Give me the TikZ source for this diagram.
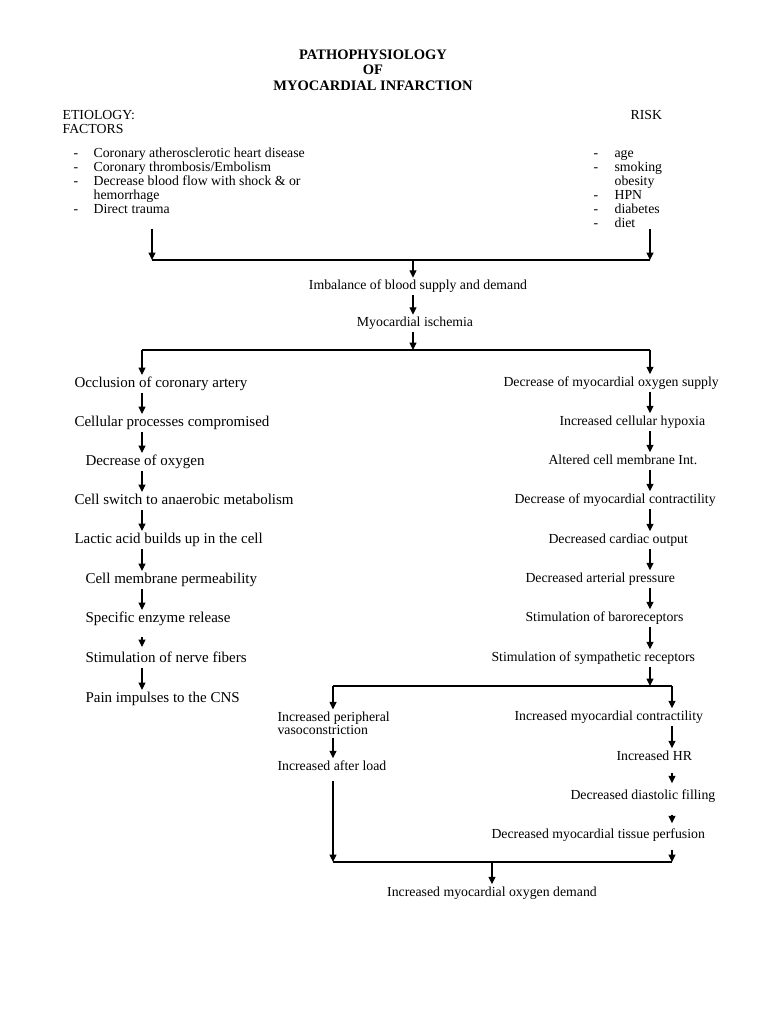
\documentclass[tikz,border=0pt]{standalone}
\usepackage{fontspec}
\setmainfont{Liberation Serif}
\usepackage{tikz}
\usetikzlibrary{shapes,arrows,arrows.meta}
\usetikzlibrary{positioning}
\tikzstyle{heading} = [inner sep=0pt, anchor=west, font=\fontsize{13.8}{14}\selectfont]
\tikzstyle{lefttext} = [inner sep=0pt, outer sep=2.5pt, anchor=west,
    font=\fontsize{15}{17}\selectfont, text height=10pt, text depth=3pt]
\tikzstyle{righttext} = [inner sep=0pt, outer sep=2.5pt, anchor=west,
    font=\fontsize{13.8}{14}\selectfont, text height=9.5pt, text depth=3pt]
\tikzstyle{line} = [draw, -{Triangle[length=7.5pt,width=7pt]}]

\begin{document}
\begin{tikzpicture}[x=1pt,y=-1pt,line width=1.2pt]
    \useasboundingbox[fill=white] (0,0) rectangle (768,1024);
    % Place nodes
    \node [align=center, inner sep=0pt, font=\bfseries\fontsize{14.5}{15.5}\selectfont] (title) at (373,70)
        {PATHOPHYSIOLOGY\\OF\\MYOCARDIAL INFARCTION};
    \node [heading, align=left] (etiology) at (62,122) {ETIOLOGY:\\FACTORS};
    \node [heading] (risk) at (630,115) {RISK};
    \node [heading] (etiolist) at (73,182.5) {\begin{tabular}{@{}p{20pt}@{}l@{}}
        - & Coronary atherosclerotic heart disease\\
        - & Coronary thrombosis/Embolism\\
        - & Decrease blood flow with shock \& or\\
          & hemorrhage\\
        - & Direct trauma
        \end{tabular}};
    \node [heading] (risklist) at (593,189.5) {\begin{tabular}{@{}p{21pt}@{}l@{}}
        - & age\\
        - & smoking\\
          & obesity\\
        - & HPN\\
        - & diabetes\\
        - & diet
        \end{tabular}};
    \coordinate (etop) at (152,229);
    \coordinate (ebar) at (152,260);
    \coordinate (rtop) at (650,229);
    \coordinate (rbar) at (650,260);
    \coordinate (mbar) at (413,260);
    \node [righttext, anchor=center] (imbalance) at (418,286.5) {Imbalance of blood supply and demand};
    \node [righttext, anchor=center] (ischemia) at (415,323.5) {Myocardial ischemia};
    \coordinate (splitm) at (413,350);
    \coordinate (splitl) at (142,350);
    \coordinate (splitr) at (650,350);
    % left column
    \node [lefttext] (occl) at (72,384) {Occlusion of coronary artery};
    \node [lefttext] (cellproc) at (72,423) {Cellular processes compromised};
    \node [lefttext] (decox) at (83,462) {Decrease of oxygen};
    \node [lefttext] (anaer) at (72,501) {Cell switch to anaerobic metabolism};
    \node [lefttext] (lactic) at (72,540) {Lactic acid builds up in the cell};
    \node [lefttext] (perm) at (83,580) {Cell membrane permeability};
    \node [lefttext] (enzyme) at (83,619) {Specific enzyme release};
    \node [lefttext] (nerve) at (83,659) {Stimulation of nerve fibers};
    \node [lefttext] (pain) at (83,699) {Pain impulses to the CNS};
    % right column
    \node [righttext] (decsup) at (501,383) {Decrease of myocardial oxygen supply};
    \node [righttext] (hypoxia) at (557,422) {Increased cellular hypoxia};
    \node [righttext] (membr) at (546,461) {Altered cell membrane Int.};
    \node [righttext] (contr) at (512,500) {Decrease of myocardial contractility};
    \node [righttext] (output) at (546,540) {Decreased cardiac output};
    \node [righttext] (pressure) at (523,579) {Decreased arterial pressure};
    \node [righttext] (baro) at (523,618) {Stimulation of baroreceptors};
    \node [righttext] (symp) at (489,658) {Stimulation of sympathetic receptors};
    \coordinate (lsplit) at (650,686);
    \coordinate (lbarl) at (333,686);
    \coordinate (lbarr) at (672,686);
    % lower branches
    \node [heading, align=left, outer sep=2.5pt, font=\fontsize{13.8}{13.5}\selectfont] (vaso) at (275,723.5)
        {Increased peripheral\\vasoconstriction};
    \node [righttext] (afterload) at (275,767) {Increased after load};
    \node [righttext] (inccontr) at (512,717) {Increased myocardial contractility};
    \node [righttext] (hr) at (614,757) {Increased HR};
    \node [righttext] (filling) at (568,796) {Decreased diastolic filling};
    \node [righttext] (perfusion) at (489,835) {Decreased myocardial tissue perfusion};
    \coordinate (bbl) at (333,862);
    \coordinate (bbr) at (672,862);
    \coordinate (bbm) at (492,862);
    \node [righttext, anchor=center] (demand) at (492,893) {Increased myocardial oxygen demand};
    % Draw edges
    \draw (ebar) -- (rbar);
    \path [line] (etop) -- (ebar);
    \path [line] (rtop) -- (rbar);
    \path [line] (mbar) -- (imbalance.north -| mbar);
    \path [line] (imbalance.south -| mbar) -- (ischemia.north -| mbar);
    \path [line] (ischemia.south -| mbar) -- (splitm);
    \draw (splitl) -- (splitr);
    \path [line] (splitl) -- (occl.north -| splitl);
    \path [line] (splitr) -- (decsup.north -| splitr);
    % left chain
    \path [line] (occl.south -| splitl) -- (cellproc.north -| splitl);
    \path [line] (cellproc.south -| splitl) -- (decox.north -| splitl);
    \path [line] (decox.south -| splitl) -- (anaer.north -| splitl);
    \path [line] (anaer.south -| splitl) -- (lactic.north -| splitl);
    \path [line] (lactic.south -| splitl) -- (perm.north -| splitl);
    \path [line] (perm.south -| splitl) -- (enzyme.north -| splitl);
    \path [line, shorten <=9pt, shorten >=3pt] (enzyme.south -| splitl) -- (nerve.north -| splitl);
    \path [line] (nerve.south -| splitl) -- (pain.north -| splitl);
    % right chain
    \path [line] (decsup.south -| splitr) -- (hypoxia.north -| splitr);
    \path [line] (hypoxia.south -| splitr) -- (membr.north -| splitr);
    \path [line] (membr.south -| splitr) -- (contr.north -| splitr);
    \path [line] (contr.south -| splitr) -- (output.north -| splitr);
    \path [line] (output.south -| splitr) -- (pressure.north -| splitr);
    \path [line] (pressure.south -| splitr) -- (baro.north -| splitr);
    \path [line] (baro.south -| splitr) -- (symp.north -| splitr);
    \path [line] (symp.south -| splitr) -- (lsplit);
    \draw (lbarl) -- (lbarr);
    \path [line] (lbarl) -- (vaso.north -| lbarl);
    \path [line] (lbarr) -- (inccontr.north -| lbarr);
    \path [line] (vaso.south -| lbarl) -- (afterload.north -| lbarl);
    \path [line, shorten <=5pt] (afterload.south -| lbarl) -- (bbl);
    \path [line] (inccontr.south -| lbarr) -- (hr.north -| lbarr);
    \path [line, shorten <=7pt, shorten >=4pt] (hr.south -| lbarr) -- (filling.north -| lbarr);
    \path [line, shorten <=10pt, shorten >=3pt] (filling.south -| lbarr) -- (perfusion.north -| lbarr);
    \path [line, shorten <=6pt] (perfusion.south -| lbarr) -- (bbr);
    \draw (bbl) -- (bbr);
    \path [line] (bbm) -- (demand.north -| bbm);
\end{tikzpicture}
\end{document}
